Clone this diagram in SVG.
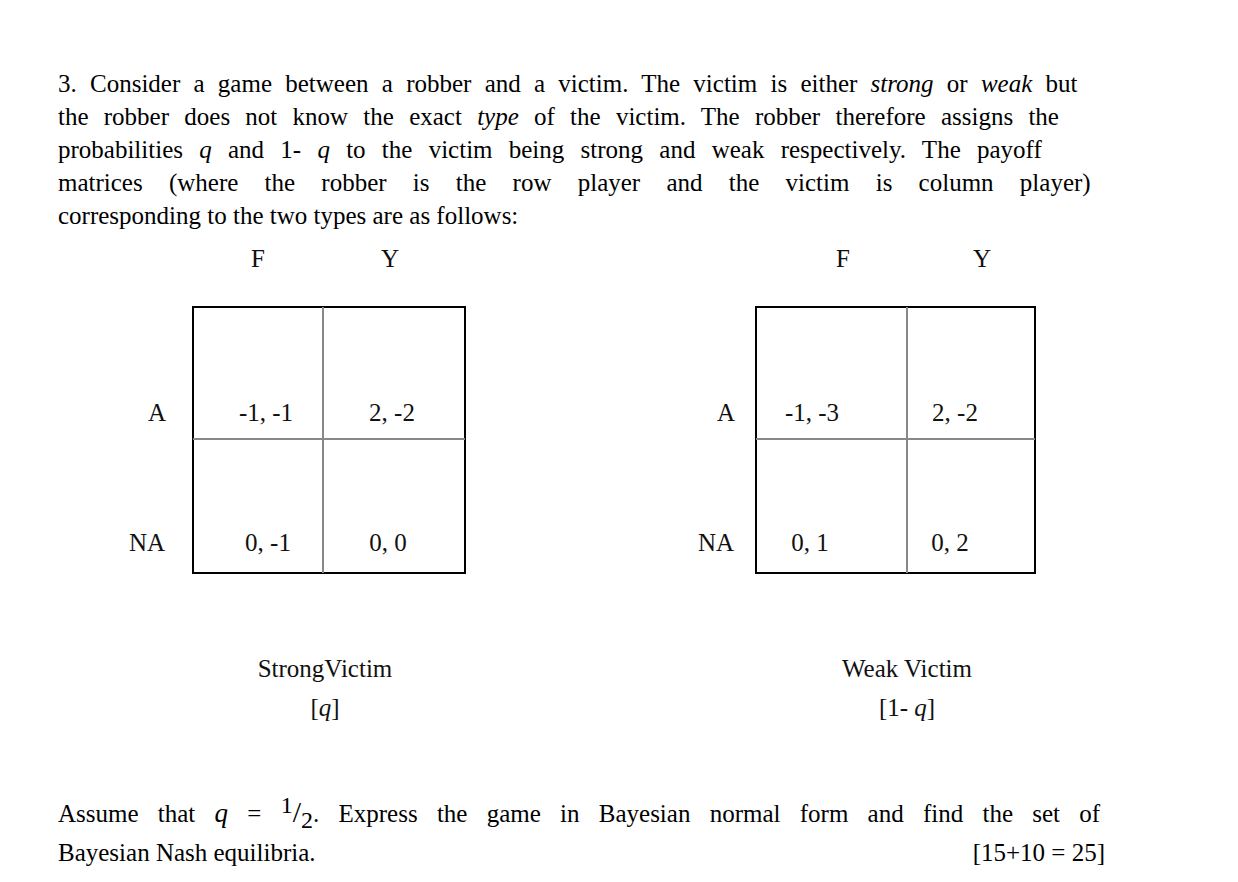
<svg xmlns="http://www.w3.org/2000/svg" width="1238" height="882" viewBox="0 0 1238 882">
<style>
.t{font-family:"Liberation Serif",serif;font-size:25px;fill:#000}
.m{font-family:"Liberation Serif",serif;font-size:25px;fill:#111}
.box{fill:none;stroke:#000;stroke-width:2}
.div{stroke:#888;stroke-width:2}
</style>
<rect width="1238" height="882" fill="#fff"/>
<text class="t" x="58" y="92" word-spacing="7">3. Consider a game between a robber and a victim. The victim is either <tspan font-style="italic">strong</tspan> or <tspan font-style="italic">weak</tspan> but</text>
<text class="t" x="58" y="125" word-spacing="9">the robber does not know the exact <tspan font-style="italic">type</tspan> of the victim. The robber therefore assigns the</text>
<text class="t" x="58" y="158" word-spacing="10">probabilities <tspan font-style="italic">q</tspan> and 1- <tspan font-style="italic">q</tspan> to the victim being strong and weak respectively. The payoff</text>
<text class="t" x="58" y="191" word-spacing="20">matrices (where the robber is the row player and the victim is column player)</text>
<text class="t" x="58" y="224">corresponding to the two types are as follows:</text>
<g id="left-matrix">
<rect class="box" x="193" y="307" width="272" height="266"/>
<line class="div" x1="323" y1="307" x2="323" y2="573"/>
<line class="div" x1="193" y1="439" x2="465" y2="439"/>
<text class="m" x="258" y="267" text-anchor="middle">F</text>
<text class="m" x="390" y="267" text-anchor="middle">Y</text>
<text class="m" x="157" y="421" text-anchor="middle">A</text>
<text class="m" x="147" y="551" text-anchor="middle">NA</text>
<text class="m" x="266" y="421" text-anchor="middle">-1, -1</text>
<text class="m" x="392" y="421" text-anchor="middle">2, -2</text>
<text class="m" x="268" y="551" text-anchor="middle">0, -1</text>
<text class="m" x="388" y="551" text-anchor="middle">0, 0</text>
<text class="m" x="325" y="677" text-anchor="middle">StrongVictim</text>
<text class="m" x="325" y="716" text-anchor="middle">[<tspan font-style="italic">q</tspan>]</text>
</g>
<g id="right-matrix">
<rect class="box" x="756" y="307" width="279" height="266"/>
<line class="div" x1="907" y1="307" x2="907" y2="573"/>
<line class="div" x1="756" y1="439" x2="1035" y2="439"/>
<text class="m" x="843" y="267" text-anchor="middle">F</text>
<text class="m" x="982" y="267" text-anchor="middle">Y</text>
<text class="m" x="726" y="421" text-anchor="middle">A</text>
<text class="m" x="716" y="551" text-anchor="middle">NA</text>
<text class="m" x="812" y="421" text-anchor="middle">-1, -3</text>
<text class="m" x="955" y="421" text-anchor="middle">2, -2</text>
<text class="m" x="810" y="551" text-anchor="middle">0, 1</text>
<text class="m" x="950" y="551" text-anchor="middle">0, 2</text>
<text class="m" x="907" y="677" text-anchor="middle">Weak Victim</text>
<text class="m" x="907" y="716" text-anchor="middle">[1- <tspan font-style="italic">q</tspan>]</text>
</g>
<text class="t" x="58" y="822" word-spacing="13">Assume that <tspan font-style="italic" font-size="27">q</tspan> = <tspan font-size="24" dy="-9">1</tspan><tspan font-size="30" dy="9">/</tspan><tspan font-size="24" dy="6">2</tspan><tspan dy="-6">. Express the game in Bayesian normal form and find the set of</tspan></text>
<text class="t" x="58" y="861">Bayesian Nash equilibria.</text>
<text class="t" x="1105" y="861" text-anchor="end">[15+10 = 25]</text>
</svg>
